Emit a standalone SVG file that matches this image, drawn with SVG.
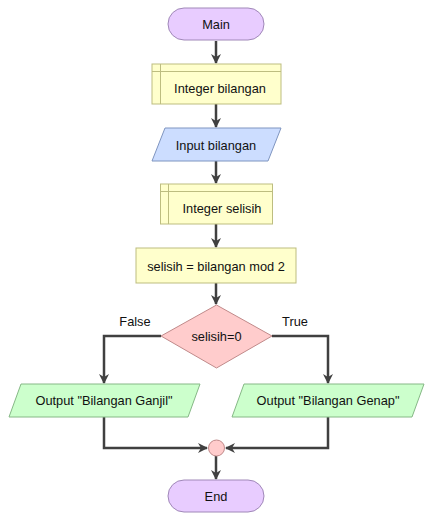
<svg xmlns="http://www.w3.org/2000/svg" width="433" height="521" viewBox="0 0 433 521">
<defs>
<marker id="ah" markerWidth="10" markerHeight="10" refX="9" refY="5" orient="auto" markerUnits="userSpaceOnUse">
<path d="M0,0 L10,5 L0,10 L3,5 Z" fill="#404040"/>
</marker>
<style>
text{font-family:"Liberation Sans",Arial,sans-serif;font-size:12.8px;fill:#111;text-anchor:middle;dominant-baseline:central}
.term{fill:#E8CCFF;stroke:#A088B8;stroke-width:1}
.decl{fill:#FFFFCC;stroke:#BDBD80;stroke-width:1}
.io{fill:#CCDDFF;stroke:#7F95C0;stroke-width:1}
.proc{fill:#FFFFCC;stroke:#BDBD80;stroke-width:1}
.dec{fill:#FFCCCC;stroke:#C08A8A;stroke-width:1}
.out{fill:#CCFFCC;stroke:#86B886;stroke-width:1}
.conn{fill:none;stroke:#404040;stroke-width:2.5}
</style>
</defs>
<rect width="433" height="521" fill="#fff"/>
<g id="connectors">
<path class="conn" d="M216,41 V63" marker-end="url(#ah)"/>
<path class="conn" d="M216,104 V127" marker-end="url(#ah)"/>
<path class="conn" d="M216,161 V183" marker-end="url(#ah)"/>
<path class="conn" d="M216,224 V247" marker-end="url(#ah)"/>
<path class="conn" d="M216,283 V304" marker-end="url(#ah)"/>
<path class="conn" d="M161,336 H104 V383" marker-end="url(#ah)"/>
<path class="conn" d="M272,336 H328 V383" marker-end="url(#ah)"/>
<path class="conn" d="M104,417 V448 H207" marker-end="url(#ah)"/>
<path class="conn" d="M328,417 V448 H226" marker-end="url(#ah)"/>
<path class="conn" d="M216,456 V479" marker-end="url(#ah)"/>
<text x="135" y="321">False</text>
<text x="295" y="321">True</text>
</g>
<g id="main">
<rect class="term" x="168" y="8" width="96" height="32" rx="16"/>
<text x="216" y="24">Main</text>
</g>
<g id="integer-bilangan">
<rect class="decl" x="152" y="64" width="129" height="40"/>
<path class="decl" d="M160.5,64 V104 M152,71.5 H281" fill="none"/>
<text x="220" y="88">Integer bilangan</text>
</g>
<g id="input-bilangan">
<polygon class="io" points="165,128 281,128 268,161 152,161"/>
<text x="216" y="145">Input bilangan</text>
</g>
<g id="integer-selisih">
<rect class="decl" x="160.5" y="184" width="112" height="40"/>
<path class="decl" d="M168.5,184 V224 M160.5,191.5 H272.5" fill="none"/>
<text x="222" y="208">Integer selisih</text>
</g>
<g id="proses">
<rect class="proc" x="136" y="248" width="160" height="35"/>
<text x="216" y="266">selisih = bilangan mod 2</text>
</g>
<g id="decision">
<polygon class="dec" points="216.5,305 272,336 216.5,368 161,336"/>
<text x="216.5" y="336">selisih=0</text>
</g>
<g id="output-ganjil">
<polygon class="out" points="21,384 200,384 188,417 9,417"/>
<text x="104" y="400">Output "Bilangan Ganjil"</text>
</g>
<g id="output-genap">
<polygon class="out" points="244,384 424,384 412,417 232,417"/>
<text x="328" y="400">Output "Bilangan Genap"</text>
</g>
<g id="junction">
<circle class="dec" cx="216.5" cy="448" r="8"/>
</g>
<g id="end">
<rect class="term" x="168" y="480" width="96" height="32" rx="16"/>
<text x="216" y="496">End</text>
</g>
</svg>
